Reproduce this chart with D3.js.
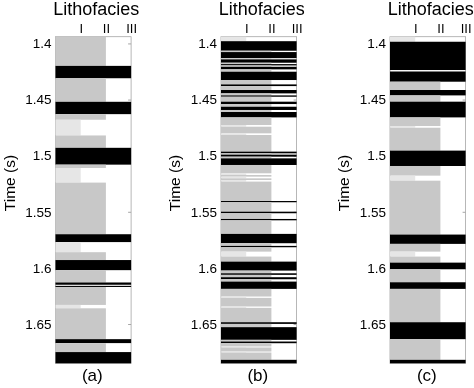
<!DOCTYPE html>
<html>
<head>
<meta charset="utf-8">
<script src="https://cdn.jsdelivr.net/npm/d3@7"></script>
<style>
  body { margin: 0; background: #fff; }
  svg { font-family: "Liberation Sans", Arial, sans-serif; will-change: transform; transform: translateZ(0); }
</style>
</head>
<body>
<svg id="chart"></svg>
<script>
// time ticks and facies labels
const timeTicks = [1.4, 1.45, 1.5, 1.55, 1.6, 1.65];
const faciesTicks = [1, 2, 3];
const faciesLabels = ["I", "II", "III"];
const panelNames = ["(a)", "(b)", "(c)"];

// each panel: interval boundaries (s) and facies code of each interval (0 = none)
const breaksA = [1.394, 1.420, 1.431, 1.452, 1.463, 1.468, 1.482, 1.493, 1.508, 1.511, 1.524, 1.570, 1.577,
  1.586, 1.593, 1.602, 1.613, 1.615, 1.616, 1.617, 1.633, 1.636, 1.6635, 1.667, 1.675, 1.685];
const faciesA = [2, 3, 2, 3, 2, 1, 2, 3, 2, 1, 2, 3, 1, 2, 3, 2, 3, 0, 3, 2, 1, 2, 3, 2, 3];

const breaksB = [1.394, 1.398, 1.4065, 1.4077, 1.4131, 1.4142, 1.4172, 1.4184, 1.4196, 1.4208,
  1.4231, 1.4252, 1.4326, 1.4365, 1.4380, 1.4415, 1.4445, 1.4463, 1.4475, 1.4519,
  1.4540, 1.4564, 1.4593, 1.4611, 1.4659, 1.4727, 1.4742, 1.4801, 1.4816, 1.4964,
  1.4979, 1.4991, 1.5009, 1.5024, 1.5083, 1.5157, 1.5172, 1.5187, 1.5202, 1.5217,
  1.5231, 1.5404, 1.5415, 1.5499, 1.5513, 1.5564, 1.5576, 1.5697, 1.5780, 1.5804,
  1.5816, 1.5855, 1.5899, 1.5944, 1.6024, 1.6048, 1.6062, 1.6083, 1.6101, 1.6122,
  1.6187, 1.6255, 1.6267, 1.6344, 1.6356, 1.6484, 1.6499, 1.6528, 1.6641, 1.6656,
  1.6671, 1.6700, 1.6709, 1.6745, 1.6754, 1.6819, 1.685];
const faciesB = [1, 3, 2, 3, 2, 3, 2, 3, 2, 3, 2, 3, 2, 3, 2, 3, 2, 3, 2, 3, 2, 3, 2, 3, 2,
  1, 2, 1, 2, 3, 2, 3, 2, 3, 2, 1, 2, 1, 2, 1, 2, 3, 2, 3, 2, 3, 2, 3, 2, 3, 2,
  1, 2, 3, 2, 3, 2, 3, 2, 3, 2, 1, 2, 1, 2, 3, 2, 3, 2, 3, 2, 1, 2, 1, 2, 3];

const breaksC = [1.394, 1.3985, 1.4237, 1.425, 1.4341, 1.4415, 1.4463, 1.4519, 1.4659, 1.4736, 1.4751,
  1.4955, 1.5092, 1.5178, 1.5223, 1.5703, 1.5786, 1.5855, 1.5899, 1.5953, 1.6012, 1.6128,
  1.6187, 1.6484, 1.6635, 1.6819, 1.685];
const faciesC = [1, 3, 0, 3, 2, 3, 2, 3, 2, 1, 2, 3, 2, 1, 2, 3, 2, 1, 2, 3, 2, 3, 2, 3, 2, 3];

const faciesColor = { 1: "#e6e6e6", 2: "#c8c8c8", 3: "#000000" };

const svg = d3.select("#chart")
  .attr("width", 474)
  .attr("height", 388);

const y = d3.scaleLinear()
  .domain([1.394, 1.685])
  .range([36.7, 363.3]);

const panels = [
  { name: panelNames[0], breaks: breaksA, facies: faciesA, left: 55.5 },
  { name: panelNames[1], breaks: breaksB, facies: faciesB, left: 221 },
  { name: panelNames[2], breaks: breaksC, facies: faciesC, left: 390 }
];

panels.forEach(p => {
  const x = d3.scaleLinear().domain([0, 3]).range([p.left, p.left + 75.6]);
  const g = svg.append("g");

  // box
  g.append("rect")
    .attr("x", x(0)).attr("y", y.range()[0])
    .attr("width", x(3) - x(0)).attr("height", y.range()[1] - y.range()[0])
    .attr("fill", "none").attr("stroke", "#a6a6a6").attr("stroke-width", 0.8);

  // inward ticks on right side
  g.append("g")
    .attr("transform", `translate(${x(3)},0)`)
    .call(d3.axisLeft(y).tickValues(timeTicks).tickSize(3).tickFormat(""))
    .call(a => a.select(".domain").remove())
    .call(a => a.selectAll("line").attr("stroke", "#a6a6a6"));

  const segs = p.facies.map((f, i) => ({ t0: p.breaks[i], t1: p.breaks[i + 1], f: f }))
    .filter(d => d.f > 0);

  g.selectAll("rect.bar")
    .data(segs)
    .enter().append("rect")
    .attr("class", "bar")
    .attr("x", x(0))
    .attr("y", d => y(d.t0))
    .attr("width", d => x(d.f) - x(0))
    .attr("height", d => y(d.t1) - y(d.t0))
    .attr("fill", d => faciesColor[d.f]);

  // time labels on left
  g.append("g")
    .attr("transform", `translate(${x(0)},0)`)
    .call(d3.axisLeft(y).tickValues(timeTicks).tickSize(0).tickPadding(4).tickFormat(d3.format("")))
    .call(a => a.select(".domain").remove())
    .call(a => a.selectAll("text")
      .attr("font-size", 13.5)
      .attr("fill", "#000")
      .style("font-family", "'Liberation Sans', Arial, sans-serif"));

  // facies labels on top
  g.append("g")
    .attr("transform", `translate(0,${y.range()[0]})`)
    .call(d3.axisTop(x).tickValues(faciesTicks).tickSize(0).tickPadding(4)
      .tickFormat((d, i) => faciesLabels[i]))
    .call(a => a.select(".domain").remove())
    .call(a => a.selectAll("text")
      .attr("font-size", 13)
      .attr("fill", "#000")
      .style("font-family", "'Liberation Sans', Arial, sans-serif"));

  const cx = (x(0) + x(3)) / 2;

  g.append("text")
    .attr("x", cx + 3)
    .attr("y", 15)
    .attr("text-anchor", "middle")
    .attr("font-size", 18)
    .text("Lithofacies");

  // baseline of the rotated label sits left of the axis
  g.append("text")
    .attr("transform", `translate(${x(0) - 41},183) rotate(-90)`)
    .attr("text-anchor", "middle")
    .attr("font-size", 15.5)
    .text("Time (s)");

  g.append("text")
    .attr("x", cx - 1)
    .attr("y", 381)
    .attr("text-anchor", "middle")
    .attr("font-size", 17)
    .text(p.name);
});
</script>
</body>
</html>
